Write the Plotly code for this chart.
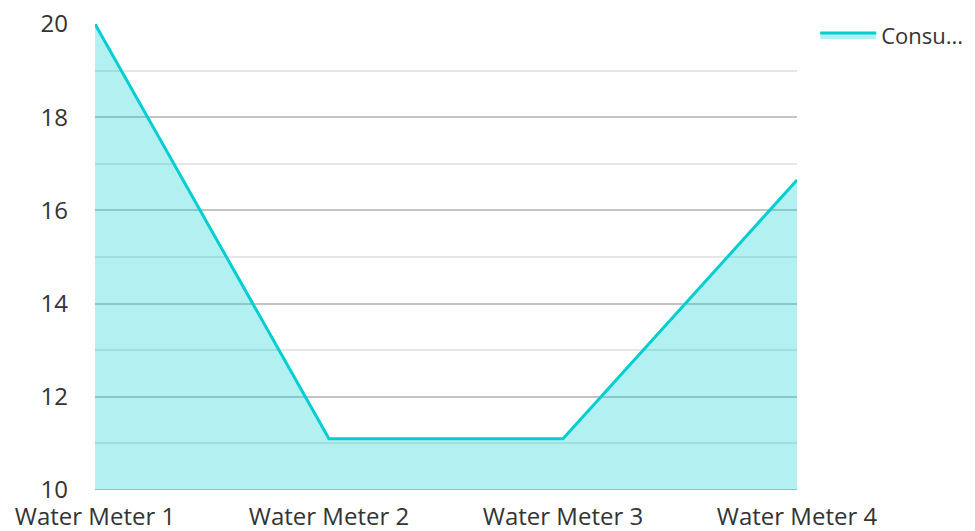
import plotly.graph_objects as go

categories = ["Water Meter 1", "Water Meter 2", "Water Meter 3", "Water Meter 4"]
consumption = [20, 11.1, 11.1, 16.65]
series_name = "Consu..."

fig = go.Figure()
fig.add_trace(go.Scatter(
    x=categories, y=consumption, name=series_name,
    mode="lines", line=dict(color="#00CED1", width=3),
    fill="tozeroy", fillcolor="rgba(0,206,209,0.3)",
))

fig.update_layout(
    width=975, height=531,
    margin=dict(l=87, r=186, t=16, b=49, autoexpand=False),
    paper_bgcolor="white", plot_bgcolor="white",
    font=dict(family="Open Sans", size=24, color="#333333"),
    showlegend=True,
    legend=dict(x=1.026, y=1.021, xanchor="left", yanchor="top",
                font=dict(size=22, color="#333333"), itemwidth=56),
    xaxis=dict(showgrid=False, zeroline=False, showline=False, automargin=False,
               range=[0, 3], ticks="", ticklabelstandoff=10, tickfont=dict(size=24),
               ticklabeloverflow="allow"),
    yaxis=dict(range=[10, 20], dtick=2, tick0=10, showgrid=True, automargin=False,
               gridcolor="#c4c4c4", gridwidth=1.5, zeroline=False,
               showline=False, ticklabelstandoff=26, ticklabeloverflow="allow",
               minor=dict(dtick=1, tick0=10, showgrid=True, gridcolor="#e6e6e6", gridwidth=1.5),
               tickfont=dict(size=24)),
    shapes=[dict(type="line", xref="paper", yref="y", x0=0, x1=1, y0=10, y1=10,
                 line=dict(color="#c4c4c4", width=2), layer="below")],
)

fig.write_html("out.html")
